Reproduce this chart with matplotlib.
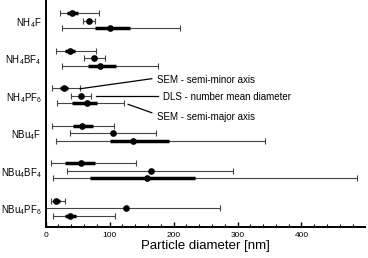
import numpy as np
import matplotlib
matplotlib.use('Agg')
import matplotlib.pyplot as plt

plt.rcParams['font.family'] = ['Liberation Sans', 'DejaVu Sans']
plt.rcParams['mathtext.default'] = 'regular'

# salts (one group of three bars each)
salts = ['NH$_4$F', 'NH$_4$BF$_4$', 'NH$_4$PF$_6$', 'NBu$_4$F', 'NBu$_4$BF$_4$', 'NBu$_4$PF$_6$']

# SEM - semi-minor axis
minor_mean = [42, 38, 29, 57, 56, 16]
minor_lo = [22, 16, 10, 10, 8, 8]
minor_hi = [84, 78, 54, 107, 142, 31]
minor_q1 = [33, 30, 22, 43, 31, 12]
minor_q3 = [51, 46, 35, 74, 77, 22]

# DLS - number mean diameter
dls_mean = [68, 76, 55, 106, 164, 126]
dls_lo = [59, 60, 40, 38, 34, -20]
dls_hi = [77, 93, 71, 173, 293, 272]

# SEM - semi-major axis
major_mean = [101, 85, 64, 136, 158, 38]
major_lo = [26, 25, 17, 16, 12, 12]
major_hi = [210, 175, 122, 343, 487, 109]
major_q1 = [77, 67, 41, 101, 70, 30]
major_q3 = [132, 110, 80, 193, 234, 47]

fig = plt.figure(figsize=(3.68, 2.58), dpi=100)
ax = fig.add_axes([0.124, 0.121, 0.869, 0.879])

centers = np.arange(len(salts)) * 5.0


def draw(y, mean, lo, hi, q1=None, q3=None):
    mean = np.array(mean)
    err = [mean - np.array(lo), np.array(hi) - mean]
    ax.errorbar(mean, y, xerr=err, fmt='none', ecolor='#444444',
                elinewidth=0.8, capsize=2.2, capthick=0.8)
    if q1 is not None:
        ax.hlines(y, q1, q3, colors='black', lw=2.5)
    ax.plot(mean, y, 'o', color='black', ms=3.8)


draw(centers - 1, minor_mean, minor_lo, minor_hi, minor_q1, minor_q3)
draw(centers, dls_mean, dls_lo, dls_hi)
draw(centers + 1, major_mean, major_lo, major_hi, major_q1, major_q3)

ax.set_xlim(0, 500)
ax.set_ylim(27.47, -2.76)
ax.set_yticks(centers)
ax.set_yticklabels(salts, fontsize=6.9)
ax.tick_params(axis='y', length=0, pad=3)
ax.set_xticks([0, 100, 200, 300, 400])
ax.set_xticks(np.arange(0, 500, 20), minor=True)
ax.tick_params(axis='x', which='both', direction='in', labelsize=6)
ax.tick_params(axis='x', which='major', length=3.5, width=1)
ax.tick_params(axis='x', which='minor', length=2, width=0.8)
ax.set_xlabel('Particle diameter [nm]', fontsize=9.5, labelpad=1)
for s in ['top', 'right']:
    ax.spines[s].set_visible(False)
for s in ['left', 'bottom']:
    ax.spines[s].set_linewidth(1.4)

# labels for the three rows
ax.plot([54, 166], [9.07, 7.73], color='black', lw=0.9)
ax.text(174, 7.9, 'SEM - semi-minor axis', fontsize=7, va='center')
ax.plot([78, 176], [10, 10], color='black', lw=0.9)
ax.text(184, 10.2, 'DLS - number mean diameter', fontsize=7, va='center')
ax.plot([129, 166], [11.15, 12.27], color='black', lw=0.9)
ax.text(174, 12.9, 'SEM - semi-major axis', fontsize=7, va='center')

fig.savefig('out.png', dpi=100)
